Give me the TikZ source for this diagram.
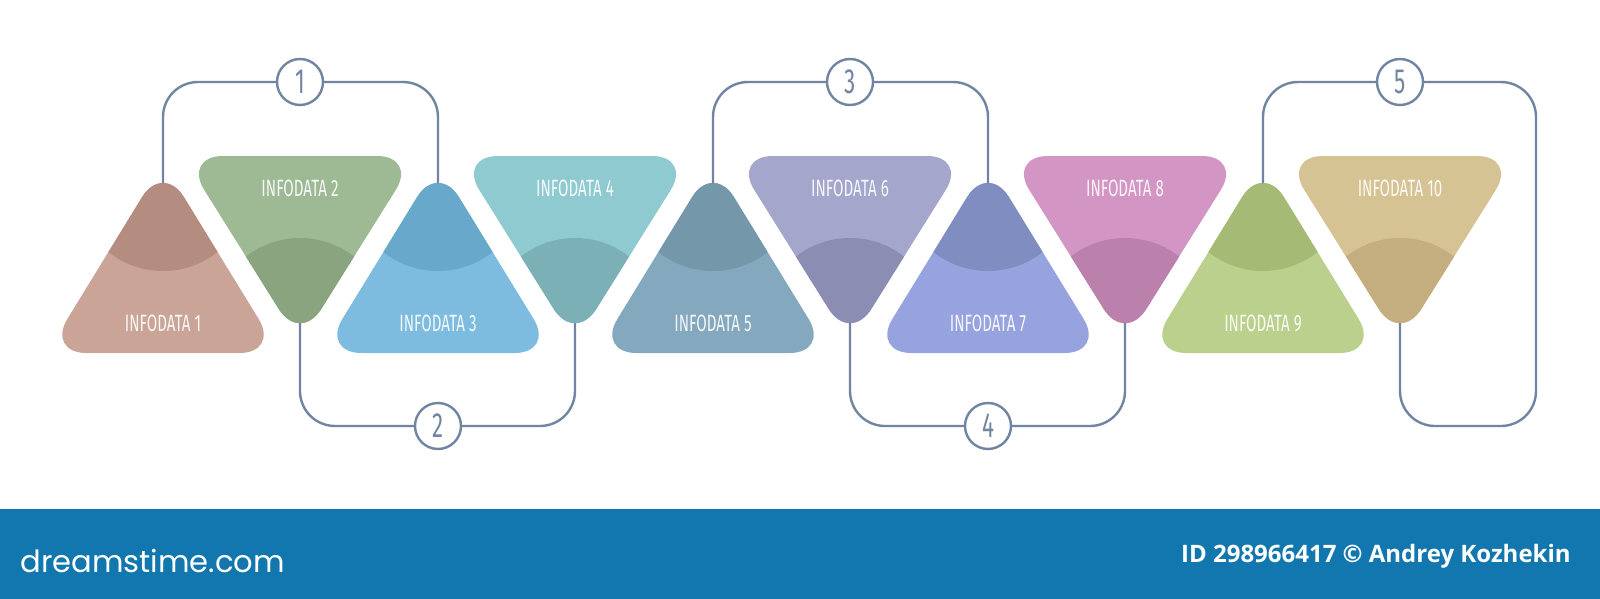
\documentclass[tikz,border=0pt]{standalone}
\usepackage{fontspec}
\setmainfont{Open Sans}
\newfontfamily\condf[FakeStretch=0.64]{Fira Sans}
\newfontfamily\logof{Poppins}
\newfontfamily\idf{Open Sans}
\definecolor{linec}{RGB}{113,133,163}
\definecolor{banner}{RGB}{17,119,174}
\definecolor{L1}{RGB}{201,164,151}\definecolor{D1}{RGB}{180,140,128}
\definecolor{L2}{RGB}{157,186,148}\definecolor{D2}{RGB}{137,164,126}
\definecolor{L3}{RGB}{125,188,223}\definecolor{D3}{RGB}{104,168,202}
\definecolor{L4}{RGB}{143,202,208}\definecolor{D4}{RGB}{122,176,182}
\definecolor{L5}{RGB}{132,168,190}\definecolor{D5}{RGB}{116,151,170}
\definecolor{L6}{RGB}{165,166,204}\definecolor{D6}{RGB}{139,141,179}
\definecolor{L7}{RGB}{151,163,222}\definecolor{D7}{RGB}{128,141,192}
\definecolor{L8}{RGB}{210,149,196}\definecolor{D8}{RGB}{187,128,172}
\definecolor{L9}{RGB}{187,208,140}\definecolor{D9}{RGB}{165,187,117}
\definecolor{L10}{RGB}{214,195,148}\definecolor{D10}{RGB}{196,173,127}
\begin{document}
\begin{tikzpicture}[x=0.5pt,y=-0.5pt,
  conn/.style={draw=linec, line width=1.2pt, rounded corners=17.5pt},
  numc/.style={circle, draw=linec, line width=1.2pt, fill=white, minimum size=23pt, inner sep=0pt,
    font=\condf\fontsize{17.5}{17.5}\selectfont, text=linec},
  lbl/.style={font=\condf\fontsize{11.8}{13}\selectfont, text=white, text opacity=0.9, inner sep=0pt},
  tri/.style={rounded corners=20pt}]
\useasboundingbox (0,0) rectangle (1600,599);
\fill[white] (0,0) rectangle (1600,599);
% up triangles
\foreach \n/\cx in {1/163,3/438,5/713,7/988,9/1263}{
  \begin{scope}
    \clip[tri] (\cx,353) -- ({\cx+116.5},353) -- (\cx,163) -- ({\cx-116.5},353) -- cycle;
    \fill[L\n] ({\cx-130},150) rectangle ({\cx+130},360);
    \fill[D\n] (\cx,183) circle[radius=88];
  \end{scope}
  \node[lbl] (lbl\n) at (\cx,323) {INFODATA \n};
  \coordinate (a\n) at (\cx,183);
}
% down triangles
\foreach \n/\cx in {2/300,4/575,6/850,8/1125,10/1400}{
  \begin{scope}
    \clip[tri] (\cx,156) -- ({\cx+117},156) -- (\cx,343) -- ({\cx-117},156) -- cycle;
    \fill[L\n] ({\cx-130},150) rectangle ({\cx+130},350);
    \fill[D\n] (\cx,326) circle[radius=88];
  \end{scope}
  \node[lbl] (lbl\n) at (\cx,188) {INFODATA \n};
  \coordinate (a\n) at (\cx,323);
}
% number circles
\node[numc] (n1) at (300,82) {1};
\node[numc] (n2) at (438,426) {2};
\node[numc] (n3) at (850,82) {3};
\node[numc] (n4) at (988,426) {4};
\node[numc] (n5) at (1400,82) {5};
\coordinate (k5) at (1536,426);
% connectors
\draw[conn] (a1) |- (n1.west);
\draw[conn] (n1.east) -| (a3);
\draw[conn] (a2) |- (n2.west);
\draw[conn] (n2.east) -| (a4);
\draw[conn] (a5) |- (n3.west);
\draw[conn] (n3.east) -| (a7);
\draw[conn] (a6) |- (n4.west);
\draw[conn] (n4.east) -| (a8);
\draw[conn] (a9) |- (n5.west);
\draw[conn] (n5.east) -| (k5) -| (a10);
% banner
\fill[banner] (0,509) rectangle (1600,599);
\node[anchor=base west, inner sep=0pt, text=white, font=\logof\fontsize{15.3}{15.3}\selectfont] (logo) at (20,572) {dreamstime.com};
\node[anchor=base east, inner sep=0pt, text=white, font=\idf\bfseries\fontsize{12}{12}\selectfont] (idt) at (1571,562) {ID 298966417 © Andrey Kozhekin};
\end{tikzpicture}
\end{document}
